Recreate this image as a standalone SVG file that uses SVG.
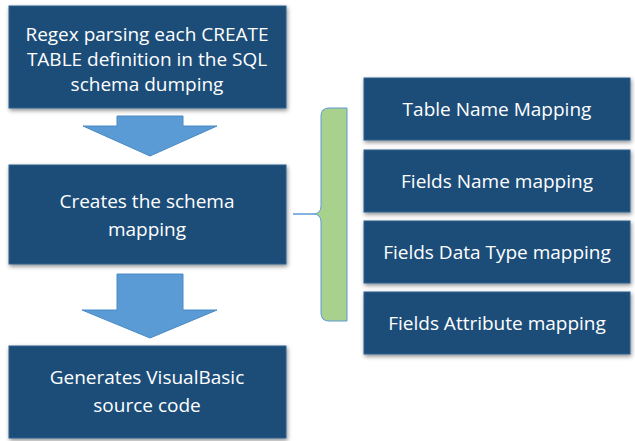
<svg xmlns="http://www.w3.org/2000/svg" width="635" height="441" viewBox="0 0 635 441">
<defs>
<filter id="sh" x="-10%" y="-10%" width="120%" height="130%"><feDropShadow dx="1" dy="2" stdDeviation="2" flood-opacity="0.45"/></filter>
<style>
.b{fill:#1f4e79;stroke:#2e5f8e;stroke-width:1;filter:url(#sh)}
.t{fill:#fff;font-family:"Open Sans","Noto Sans",sans-serif;font-size:19px;text-anchor:middle}
.a{fill:#5b9bd5;stroke:#4a8ac4;stroke-width:1}
</style>
</defs>
<rect width="635" height="441" fill="#fff"/>
<g id="n1"><rect class="b" x="9" y="6" width="277" height="102"/><text class="t" x="147" y="41">Regex parsing each CREATE</text><text class="t" x="147" y="66">TABLE definition in the SQL</text><text class="t" x="147" y="91">schema dumping</text></g>
<g id="n2"><rect class="b" x="9" y="165" width="277" height="99"/><text class="t" x="147" y="208">Creates the schema</text><text class="t" x="147" y="236">mapping</text></g>
<g id="n3"><rect class="b" x="9" y="346" width="277" height="92"/><text class="t" x="147" y="384">Generates VisualBasic</text><text class="t" x="147" y="412">source code</text></g>
<g id="r1"><rect class="b" x="364" y="78" width="266" height="62"/><text class="t" x="497" y="116">Table Name Mapping</text></g>
<g id="r2"><rect class="b" x="364" y="150" width="266" height="62"/><text class="t" x="497" y="188">Fields Name mapping</text></g>
<g id="r3"><rect class="b" x="364" y="221" width="266" height="62"/><text class="t" x="497" y="259">Fields Data Type mapping</text></g>
<g id="r4"><rect class="b" x="364" y="292" width="266" height="62"/><text class="t" x="497" y="330">Fields Attribute mapping</text></g>
<g id="connectors">
<path class="a" d="M117 116H183V126H217L150 156L83 126H117Z"/>
<path class="a" d="M117 274H183V310H217L150 338L82 310H117Z"/>
<path d="M347 108H329Q321 108 321 116V206Q321 214 313 214H293H313Q321 214 321 222V313Q321 321 329 321H347Z" fill="#a9d18e" stroke="#5b9bd5" stroke-width="1"/>
</g>
</svg>
